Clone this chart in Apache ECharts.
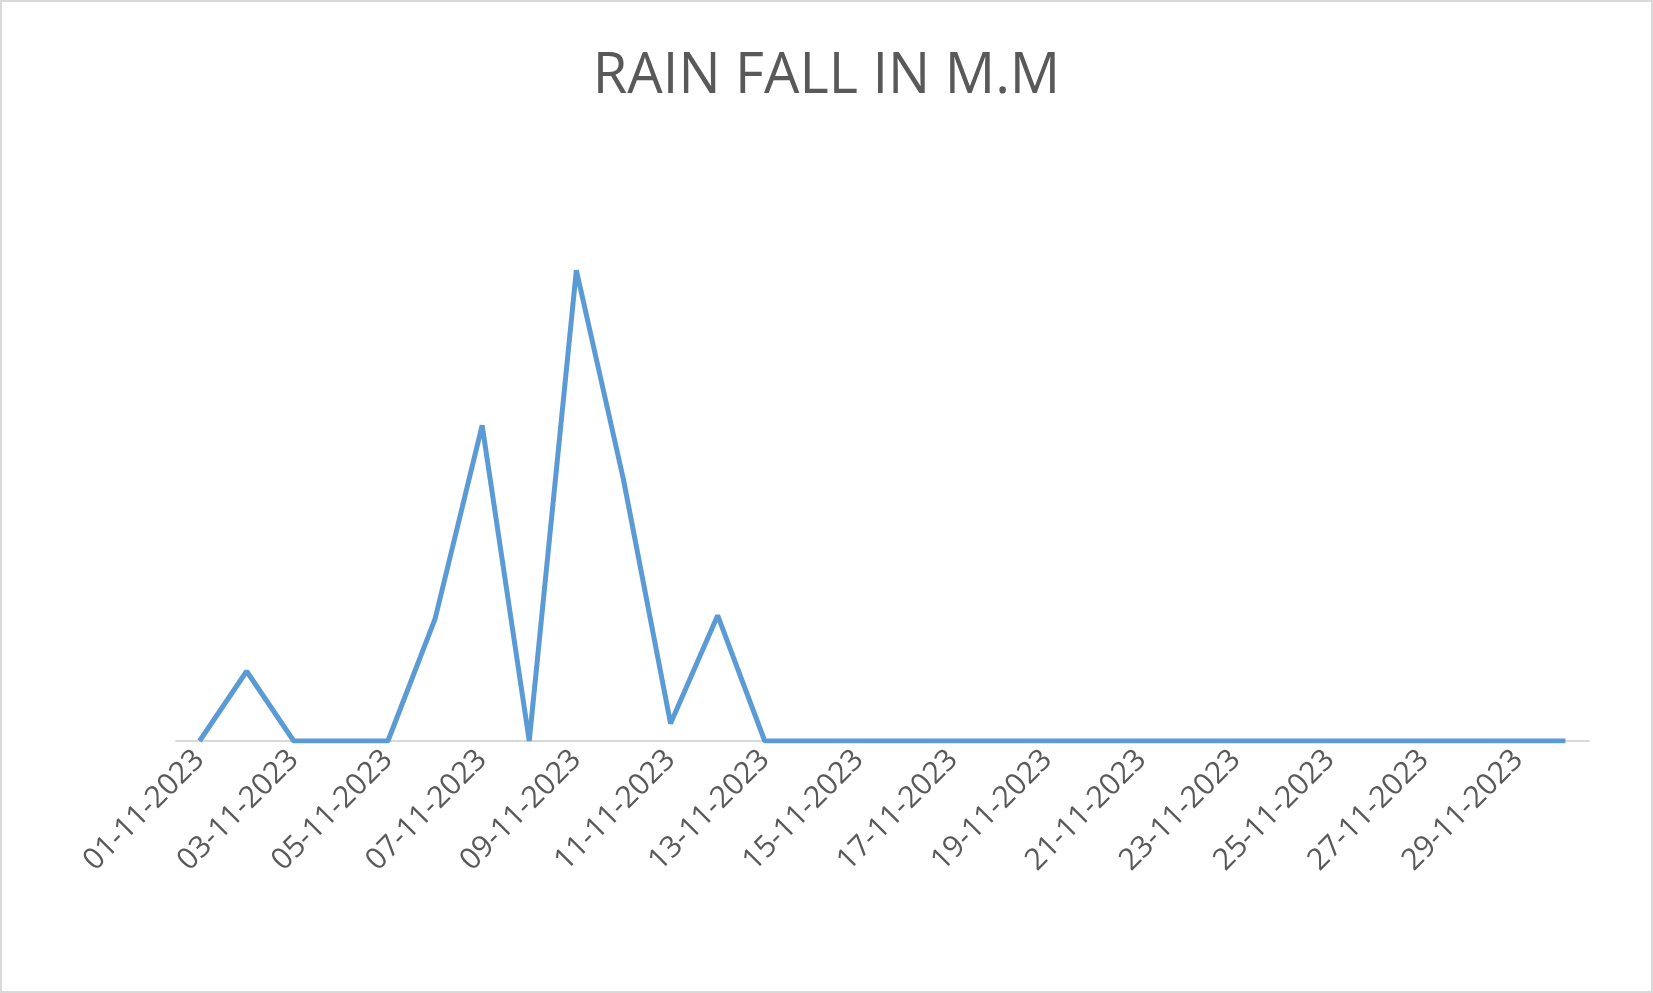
<!DOCTYPE html>
<html><head><meta charset="utf-8">
<script src="https://cdn.jsdelivr.net/npm/echarts@6/dist/echarts.min.js"></script>
<style>html,body{margin:0;padding:0;background:#fff}#c{width:1649px;height:989px;border:2px solid #d9d9d9}</style>
</head><body><div id="c"></div>
<script>
const dates = Array.from({length:30},(_,i)=>String(i+1).padStart(2,'0')+'-11-2023');
const rain = [0,4,0,0,0,7,18.1,0,27,15,1,7.2,0,0,0,0,0,0,0,0,0,0,0,0,0,0,0,0,0,0];
const peaks = [1,6,8,11];
const chart = echarts.init(document.getElementById('c'));
chart.setOption({
  animation:false,
  title:{text:'RAIN FALL IN M.M',left:'center',top:42,textStyle:{fontFamily:'Open Sans',fontSize:56,fontWeight:'normal',color:'#595959'}},
  grid:{left:174,right:62,top:216,bottom:250},
  xAxis:{type:'category',data:dates,boundaryGap:true,
    axisLine:{lineStyle:{color:'#d9d9d9',width:2}},axisTick:{show:false},
    axisLabel:{interval:1,rotate:45,fontSize:30,color:'#595959',fontFamily:'Open Sans',margin:14}},
  yAxis:{type:'value',min:0,max:30,show:false,splitLine:{show:false}},
  series:[{type:'line',symbol:'circle',symbolSize:1,showSymbol:true,
    itemStyle:{color:'#5b9bd5',opacity:0},
    data:rain.map((v,i)=>({value:v,label:{position:peaks.includes(i)?'top':'inside'}})),
    lineStyle:{color:'#5b9bd5',width:5},
    labelLayout:{hideOverlap:false},
    label:{show:true,fontSize:26,fontWeight:'bold',color:'#5b9bd5',fontFamily:'Open Sans',
      backgroundColor:'#fff',padding:[6,8],distance:12}
  }]
});
</script></body></html>
